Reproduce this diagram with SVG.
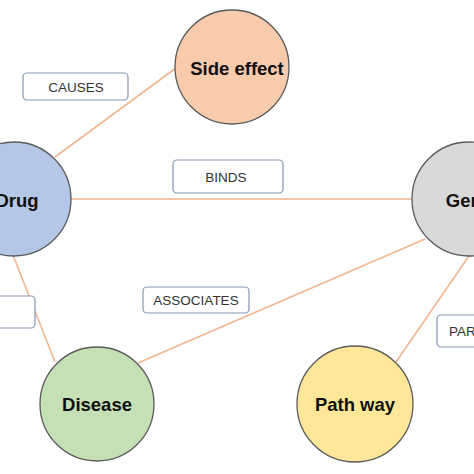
<svg xmlns="http://www.w3.org/2000/svg" width="474" height="474" viewBox="0 0 474 474">
<style>
.node{stroke:#5a5a5a;stroke-width:1.3}
.ntext{font-family:"Liberation Sans",Arial,sans-serif;font-weight:bold;font-size:18.5px;fill:#111;text-anchor:middle;dominant-baseline:central}
.edge{stroke:#f2b58f;stroke-width:1.6;fill:none}
.lbox{fill:#fff;stroke:#8596b0;stroke-width:1.2}
.ltext{font-family:"Liberation Sans",Arial,sans-serif;font-size:13.5px;fill:#333;text-anchor:middle;dominant-baseline:central}
</style>
<rect width="474" height="474" fill="#fff"/>
<g id="connectors">
<line class="edge" x1="55" y1="157" x2="176" y2="68"/>
<line class="edge" x1="71" y1="199" x2="412" y2="199"/>
<line class="edge" x1="13" y1="255" x2="55" y2="362"/>
<line class="edge" x1="138" y1="363" x2="425" y2="239"/>
<line class="edge" x1="469" y1="256" x2="396" y2="362"/>
</g>
<g id="label-causes"><rect class="lbox" x="23" y="73" width="105" height="27" rx="4"/><text class="ltext" x="76" y="87">CAUSES</text></g>
<g id="label-binds"><rect class="lbox" x="173" y="160" width="110" height="33" rx="4"/><text class="ltext" x="226" y="177">BINDS</text></g>
<g id="label-associates"><rect class="lbox" x="143" y="287" width="106" height="26" rx="4"/><text class="ltext" x="196" y="300">ASSOCIATES</text></g>
<g id="label-left"><rect class="lbox" x="-40" y="296" width="75" height="32" rx="4"/></g>
<g id="label-par"><rect class="lbox" x="437" y="315" width="80" height="32" rx="4"/><text class="ltext" x="449" y="331" style="text-anchor:start">PAR</text></g>
<g id="node-side-effect"><circle class="node" cx="232" cy="67" r="57" fill="#f8cbad"/><text class="ntext" x="237" y="68">Side effect</text></g>
<g id="node-drug"><circle class="node" cx="14" cy="199" r="57" fill="#b4c7e7"/><text class="ntext" x="17" y="200">Drug</text></g>
<g id="node-gene"><circle class="node" cx="469" cy="199" r="57" fill="#d9d9d9"/><text class="ntext" x="469" y="200">Gene</text></g>
<g id="node-disease"><circle class="node" cx="97" cy="404" r="57" fill="#c5e0b4"/><text class="ntext" x="97" y="404">Disease</text></g>
<g id="node-pathway"><circle class="node" cx="355" cy="404" r="58" fill="#ffe699"/><text class="ntext" x="355" y="404">Path way</text></g>
</svg>
